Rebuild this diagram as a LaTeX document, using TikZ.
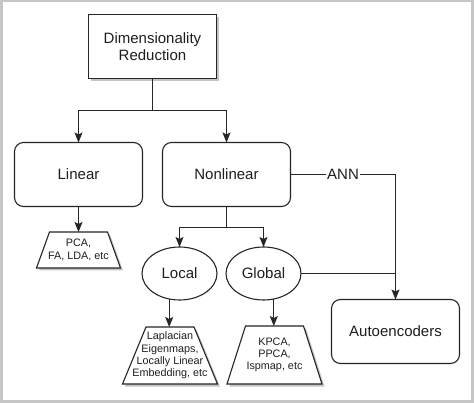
\documentclass[tikz,border=0pt]{standalone}
\usepackage{fontspec}
\setmainfont{Liberation Sans}
\usetikzlibrary{shapes.geometric,arrows.meta,calc}
\definecolor{lc}{HTML}{262626}
\definecolor{tc}{HTML}{1E1E1E}
\definecolor{framec}{HTML}{C6C6C6}
\definecolor{shadowc}{HTML}{C4C4C4}
\begin{document}
\begin{tikzpicture}[x=1pt,y=-1pt,
  line/.style={draw=lc, line width=1.1pt},
  arr/.style={line, -{Stealth[length=10pt,width=8pt,inset=2pt]}},
  big/.style={font=\fontsize{15}{17}\selectfont, text=tc, align=center},
  small/.style={font=\fontsize{10.8}{12.3}\selectfont, text=tc, align=center, inner sep=0pt, outer sep=0pt},
  sqbox/.style={big, draw=lc, line width=1.1pt, minimum width=128pt, minimum height=64pt, fill=white, inner sep=0pt, outer sep=0pt},
  rbox/.style={sqbox, rounded corners=9pt},
  ell/.style={big, draw=lc, line width=1.1pt, ellipse, minimum width=75pt, minimum height=53pt, inner sep=0pt, outer sep=0pt, fill=white},
  trap/.style={draw=lc, line width=1.1pt, fill=white},
  trapshadow/.style={fill=shadowc},
]
% frame
\fill[framec] (0,0) rectangle (474,403);
\fill[white] (2.5,2.5) rectangle (471,399.5);

% shadow of the top box
\fill[shadowc] (90.5,17) rectangle (219,81);

% main nodes
\node[sqbox] (dr) at (152.5,46.5) {Dimensionality\\Reduction};
\node[rbox] (lin) at (78.5,174.5) {Linear};
\node[rbox] (nonlin) at (226.5,174.5) {Nonlinear};
\node[rbox] (auto) at (395.5,331.5) {Autoencoders};
\node[ell] (local) at (179.5,273.5) {Local};
\node[ell] (global) at (263.5,273.5) {Global};

% trapezoid frames (shape drawn below)
\node[small, minimum width=84pt, minimum height=36pt] (pca) at (78.5,250) {};
\node[small, minimum width=95pt, minimum height=57pt] (lap) at (170,355.5) {};
\node[small, minimum width=95pt, minimum height=58pt] (kpca) at (274.5,355) {};

% trapezoid shapes with shadows
\fill[trapshadow] ([shift={(2.5pt,-2.5pt)}]pca.south west) -- ([shift={(15.5pt,-2.5pt)}]pca.north west) -- ([shift={(-10.5pt,-2.5pt)}]pca.north east) -- ([shift={(2.5pt,-2.5pt)}]pca.south east) -- cycle;
\draw[trap] (pca.south west) -- ([xshift=13pt]pca.north west) -- ([xshift=-13pt]pca.north east) -- (pca.south east) -- cycle;
\fill[trapshadow] ([shift={(2.5pt,-2.5pt)}]lap.south west) -- ([shift={(26pt,-2.5pt)}]lap.north west) -- ([shift={(-21pt,-2.5pt)}]lap.north east) -- ([shift={(2.5pt,-2.5pt)}]lap.south east) -- cycle;
\draw[trap] (lap.south west) -- ([xshift=23.5pt]lap.north west) -- ([xshift=-23.5pt]lap.north east) -- (lap.south east) -- cycle;
\fill[trapshadow] ([shift={(2.5pt,-2.5pt)}]kpca.south west) -- ([shift={(21pt,-2.5pt)}]kpca.north west) -- ([shift={(-16pt,-2.5pt)}]kpca.north east) -- ([shift={(2.5pt,-2.5pt)}]kpca.south east) -- cycle;
\draw[trap] (kpca.south west) -- ([xshift=18.5pt]kpca.north west) -- ([xshift=-18.5pt]kpca.north east) -- (kpca.south east) -- cycle;

\node[small] (pcatext) at (pca.center) {PCA,\\FA, LDA, etc};
\node[small] (laptext) at (lap.center) {Laplacian\\Eigenmaps,\\Locally Linear\\Embedding, etc};
\node[small] (kpcatext) at (kpca.center) {KPCA,\\PPCA,\\Ispmap, etc};

% connectors
\coordinate (s1) at ($(dr.south)+(0,32)$);
\draw[line] (dr.south) -- (s1);
\draw[arr] (s1) -| (lin.north);
\draw[arr] (s1) -| (nonlin.north);

\coordinate (s2) at ($(nonlin.south)+(0,21)$);
\draw[line] (nonlin.south) -- (s2);
\draw[arr] (s2) -| (local.north);
\draw[arr] (s2) -| (global.north);

\draw[arr] (lin.south) -- (pca.north);
\draw[arr] (local.248) -- (local.248 |- lap.north);
\draw[arr] (global.292) -- (global.292 |- kpca.north);

\draw[arr] (nonlin.east) -- node[big, fill=white, inner sep=1.5pt] (ann) {ANN} (nonlin.east -| auto.north) -- (auto.north);
\draw[line] (global.east) -- (global.east -| auto.north);
\end{tikzpicture}
\end{document}
